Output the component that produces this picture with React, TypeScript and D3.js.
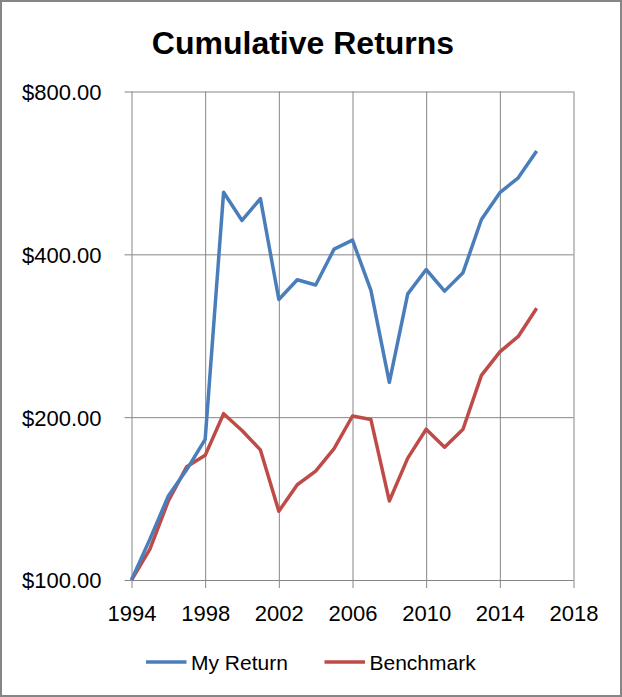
import { useEffect, useRef } from "react";
import * as d3 from "d3";

const YEARS = [
  1994, 1995, 1996, 1997, 1998, 1999, 2000, 2001, 2002, 2003, 2004, 2005,
  2006, 2007, 2008, 2009, 2010, 2011, 2012, 2013, 2014, 2015, 2016,
];
const MY_RETURN = [
  100, 119, 143, 160, 182, 521, 462, 507, 330, 359, 351, 409,
  425, 343, 232, 338, 375, 342, 370, 464, 520, 554, 621,
];
const BENCHMARK = [
  100, 114, 140, 162, 170, 203, 189, 174, 134, 150, 159, 175,
  201, 198, 140, 168, 190, 176, 190, 239, 264, 282, 318,
];
const Y_TICKS = [100, 200, 400, 800];
const X_TICKS = [1994, 1998, 2002, 2006, 2010, 2014, 2018];

const SERIES = [
  { name: "My Return", values: MY_RETURN, color: "#4A7EBB" },
  { name: "Benchmark", values: BENCHMARK, color: "#BE4B48" },
];

const W = 622;
const H = 697;
const FONT = "'Liberation Sans', Arial, sans-serif";

export default function App() {
  const svgRef = useRef<SVGSVGElement>(null);

  useEffect(() => {
    if (!svgRef.current) return;
    const svg = d3.select(svgRef.current);
    svg.selectAll("*").remove();

    const margin = { top: 91.5, right: 48.5, bottom: 117, left: 131.5 };
    const x = d3.scaleLinear().domain([1994, 2018]).range([margin.left, W - margin.right]);
    const y = d3.scaleLog().base(2).domain([100, 800]).range([H - margin.bottom, margin.top]);

    // outer frame
    svg.append("rect")
      .attr("x", 1).attr("y", 1).attr("width", W - 2).attr("height", H - 2)
      .attr("fill", "#fff").attr("stroke", "#868686").attr("stroke-width", 2);

    svg.append("text")
      .attr("x", 303).attr("y", 54)
      .attr("text-anchor", "middle")
      .attr("font-family", FONT).attr("font-weight", "bold").attr("font-size", "32px")
      .text("Cumulative Returns");

    // horizontal grid + y labels
    svg.append("g")
      .attr("transform", `translate(${margin.left},0)`)
      .call(
        d3.axisLeft(y).tickValues(Y_TICKS).tickSize(7)
          .tickFormat((d) => `$${(+d).toFixed(2)}`)
      )
      .call((ax) => ax.select(".domain").remove())
      .call((ax) => ax.selectAll(".tick line").attr("stroke", "#868686"))
      .call((ax) => ax.selectAll(".tick").append("line")
        .attr("x2", W - margin.right - margin.left).attr("stroke", "#868686"))
      .call((ax) => ax.selectAll("text")
        .attr("x", -30).attr("dy", "0.36em")
        .attr("font-family", FONT).attr("font-size", "22px").attr("fill", "#000"));

    // vertical grid + x labels
    svg.append("g")
      .attr("transform", `translate(0,${H - margin.bottom})`)
      .call(d3.axisBottom(x).tickValues(X_TICKS).tickSize(8).tickFormat(d3.format("d")))
      .call((ax) => ax.select(".domain").remove())
      .call((ax) => ax.selectAll(".tick line").attr("stroke", "#868686"))
      .call((ax) => ax.selectAll(".tick").append("line")
        .attr("y2", -(H - margin.bottom - margin.top)).attr("stroke", "#868686"))
      .call((ax) => ax.selectAll("text")
        .attr("y", 41).attr("dy", 0)
        .attr("font-family", FONT).attr("font-size", "22px").attr("fill", "#000"));

    const line = d3.line<number>()
      .x((_, i) => x(YEARS[i]))
      .y((d) => y(d));

    [...SERIES].reverse().forEach((s) => {
      svg.append("path")
        .attr("d", line(s.values))
        .attr("fill", "none")
        .attr("stroke", s.color)
        .attr("stroke-width", 3.5)
        .attr("stroke-linejoin", "round");
    });

    // legend
    const legend = [
      { ...SERIES[0], x0: 146 },
      { ...SERIES[1], x0: 324.5 },
    ];
    const ly = 662;
    legend.forEach((l) => {
      svg.append("line")
        .attr("x1", l.x0).attr("x2", l.x0 + 40.5)
        .attr("y1", ly).attr("y2", ly)
        .attr("stroke", l.color).attr("stroke-width", 3.5);
      svg.append("text")
        .attr("x", l.x0 + 45).attr("y", ly).attr("dy", "0.36em")
        .attr("font-family", FONT).attr("font-size", "21px")
        .text(l.name);
    });
  }, []);

  return (
    <svg
      ref={svgRef}
      width={W}
      height={H}
      style={{ display: "block", position: "absolute", left: 0, top: 0 }}
    />
  );
}
